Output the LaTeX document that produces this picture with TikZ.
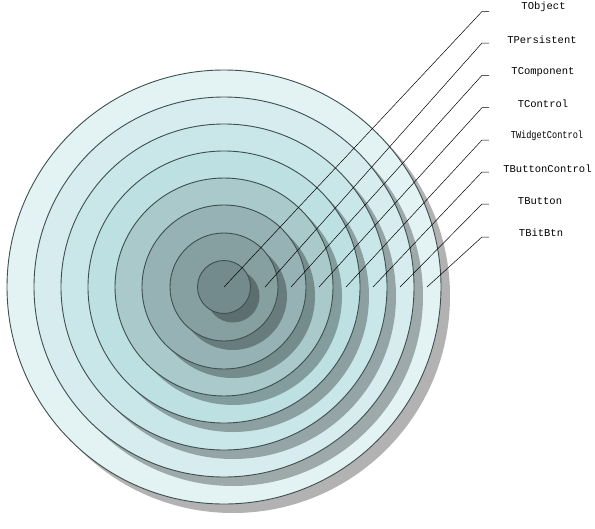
\documentclass[tikz,border=0pt]{standalone}
\usepackage{fontspec}
\setmonofont{Liberation Mono}
\usetikzlibrary{shadows}
\definecolor{ringA}{HTML}{E3F3F3}
\definecolor{ringB}{HTML}{D6ECEE}
\definecolor{ringC}{HTML}{C9E6E9}
\definecolor{ringD}{HTML}{BDE0E3}
\definecolor{ringE}{HTML}{A9C9CB}
\definecolor{ringF}{HTML}{97B2B4}
\definecolor{ringG}{HTML}{869FA1}
\definecolor{ringH}{HTML}{738B8C}
\definecolor{edgecol}{HTML}{3E4F50}
\tikzset{
  ring/.style={circle, draw=edgecol, line width=0.9pt, inner sep=0pt, minimum size=#1,
    drop shadow={shadow xshift=9pt, shadow yshift=-9pt, opacity=0.3, fill=black}},
  lbl/.style={font=\ttfamily\fontsize{10.5}{12}\selectfont, inner sep=0pt},
  conn/.style={black, line width=0.5pt}
}
\begin{document}
\begin{tikzpicture}[x=1pt,y=-1pt]
\useasboundingbox (0,0) rectangle (595,528);
\coordinate (ctr) at (224,287);
% rings, outermost first
\node[ring=434pt, fill=ringA] (c8) at (ctr) {};
\node[ring=380pt, fill=ringB] (c7) at (ctr) {};
\node[ring=326pt, fill=ringC] (c6) at (ctr) {};
\node[ring=272pt, fill=ringD] (c5) at (ctr) {};
\node[ring=218pt, fill=ringE] (c4) at (ctr) {};
\node[ring=164pt, fill=ringF] (c3) at (ctr) {};
\node[ring=108pt, fill=ringG] (c2) at (ctr) {};
\node[ring=53pt,  fill=ringH] (c1) at (ctr) {};
% labels
\node[lbl] (l1) at (543.5,7) {TObject};
\node[lbl] (l2) at (542,40) {TPersistent};
\node[lbl] (l3) at (543,72) {TComponent};
\node[lbl] (l4) at (543,104) {TControl};
\node[lbl] (l5) at (547,136) {\scalebox{0.82}[1]{TWidgetControl}};
\node[lbl] (l6) at (547.5,169) {TButtonControl};
\node[lbl] (l7) at (540,201) {TButton};
\node[lbl] (l8) at (541,233) {TBitBtn};
% tick ends
\foreach \i/\y in {1/11.5,2/43,3/75.3,4/107.7,5/140,6/172,7/204,8/237}{
  \coordinate (t\i) at (489,\y);
  \coordinate (k\i) at (482,\y);
}
\foreach \i/\x in {1/224,2/265,3/291,4/319,5/346,6/373,7/400,8/427}{
  \coordinate (e\i) at (\x,287);
}
\foreach \i in {1,...,8}{
  \draw[conn] (t\i) -- (k\i) -- (e\i);
}
\end{tikzpicture}
\end{document}
